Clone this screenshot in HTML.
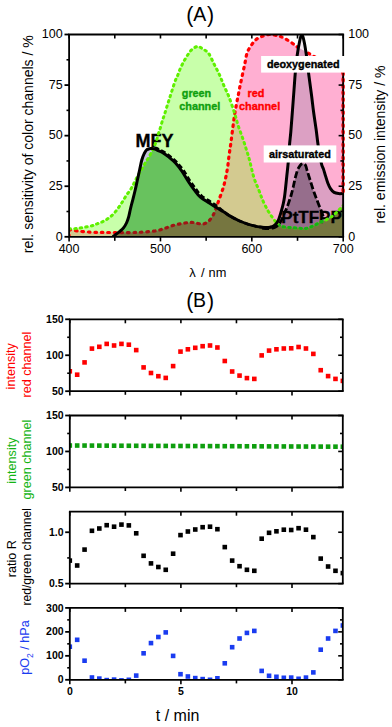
<!DOCTYPE html><html><head><meta charset="utf-8"><style>html,body{margin:0;padding:0;background:#fff;}svg{display:block;font-family:"Liberation Sans",sans-serif;}</style></head><body>
<svg width="392" height="727" viewBox="0 0 392 727">
<defs>
<clipPath id="cA"><rect x="69.1" y="34.5" width="274.1" height="202.3"/></clipPath>
<clipPath id="cG"><path d="M69.10,228.90 C70.25,228.85 73.70,228.82 76.00,228.60 C78.30,228.38 80.23,228.08 82.90,227.60 C85.57,227.12 89.63,226.33 92.00,225.70 C94.37,225.07 95.30,224.48 97.10,223.80 C98.90,223.12 101.00,222.47 102.80,221.60 C104.60,220.73 106.30,219.70 107.90,218.60 C109.50,217.50 110.97,216.37 112.40,215.00 C113.83,213.63 115.22,212.02 116.50,210.40 C117.78,208.78 118.98,206.93 120.10,205.30 C121.22,203.67 122.15,202.28 123.20,200.60 C124.25,198.92 125.27,196.90 126.40,195.20 C127.53,193.50 128.90,192.07 130.00,190.40 C131.10,188.73 132.07,186.93 133.00,185.20 C133.93,183.47 134.68,181.77 135.60,180.00 C136.52,178.23 137.48,176.38 138.50,174.60 C139.52,172.82 140.80,170.85 141.70,169.30 C142.60,167.75 143.15,166.65 143.90,165.30 C144.65,163.95 145.38,162.53 146.20,161.20 C147.02,159.87 147.90,158.83 148.80,157.30 C149.70,155.77 150.65,153.88 151.60,152.00 C152.55,150.12 153.65,148.08 154.50,146.00 C155.35,143.92 156.03,141.58 156.70,139.50 C157.37,137.42 157.90,135.42 158.50,133.50 C159.10,131.58 159.62,130.25 160.30,128.00 C160.98,125.75 161.90,122.25 162.60,120.00 C163.30,117.75 163.77,116.78 164.50,114.50 C165.23,112.22 166.15,109.02 167.00,106.30 C167.85,103.58 168.68,101.08 169.60,98.20 C170.52,95.32 171.48,92.10 172.50,89.00 C173.52,85.90 174.83,81.87 175.70,79.60 C176.57,77.33 177.05,76.97 177.70,75.40 C178.35,73.83 178.85,72.02 179.60,70.20 C180.35,68.38 181.32,66.28 182.20,64.50 C183.08,62.72 183.93,61.17 184.90,59.50 C185.87,57.83 186.88,56.12 188.00,54.50 C189.12,52.88 190.05,51.13 191.60,49.80 C193.15,48.47 195.48,46.67 197.30,46.50 C199.12,46.33 200.62,47.65 202.50,48.80 C204.38,49.95 206.68,50.88 208.60,53.40 C210.52,55.92 212.20,60.37 214.00,63.90 C215.80,67.43 217.77,71.02 219.40,74.60 C221.03,78.18 222.20,81.67 223.80,85.40 C225.40,89.13 227.18,92.30 229.00,97.00 C230.82,101.70 233.15,108.77 234.70,113.60 C236.25,118.43 236.95,121.83 238.30,126.00 C239.65,130.17 241.43,134.60 242.80,138.60 C244.17,142.60 245.40,146.50 246.50,150.00 C247.60,153.50 248.17,155.02 249.40,159.60 C250.63,164.18 252.33,172.43 253.90,177.50 C255.47,182.57 257.33,186.22 258.80,190.00 C260.27,193.78 261.20,196.80 262.70,200.20 C264.20,203.60 266.10,207.42 267.80,210.40 C269.50,213.38 271.32,215.93 272.90,218.10 C274.48,220.27 275.82,222.02 277.30,223.40 C278.78,224.78 279.98,225.73 281.80,226.40 C283.62,227.07 286.08,227.17 288.20,227.40 C290.32,227.63 292.38,227.63 294.50,227.80 C296.62,227.97 299.07,228.28 300.90,228.40 C302.73,228.52 303.93,228.70 305.50,228.50 C307.07,228.30 308.55,227.85 310.30,227.20 C312.05,226.55 314.30,225.45 316.00,224.60 C317.70,223.75 318.80,222.90 320.50,222.10 C322.20,221.30 324.28,220.75 326.20,219.80 C328.12,218.85 330.40,217.50 332.00,216.40 C333.60,215.30 334.53,214.38 335.80,213.20 C337.07,212.02 338.37,210.58 339.60,209.30 C340.83,208.02 342.60,206.13 343.20,205.50 L343.20,236.8 L69.10,236.8 Z"/></clipPath>
<clipPath id="cR"><path d="M69.10,229.50 C70.08,229.68 72.70,230.25 75.00,230.60 C77.30,230.95 79.57,231.32 82.90,231.60 C86.23,231.88 90.48,232.15 95.00,232.30 C99.52,232.45 103.72,232.47 110.00,232.50 C116.28,232.53 126.98,232.58 132.70,232.50 C138.42,232.42 140.28,232.30 144.30,232.00 C148.32,231.70 153.23,231.37 156.80,230.70 C160.37,230.03 162.73,228.95 165.70,228.00 C168.67,227.05 171.62,225.80 174.60,225.00 C177.58,224.20 180.77,223.63 183.60,223.20 C186.43,222.77 189.22,222.35 191.60,222.40 C193.98,222.45 196.08,223.23 197.90,223.50 C199.72,223.77 201.15,224.08 202.50,224.00 C203.85,223.92 204.87,223.58 206.00,223.00 C207.13,222.42 208.25,221.58 209.30,220.50 C210.35,219.42 211.38,218.00 212.30,216.50 C213.22,215.00 213.82,213.92 214.80,211.50 C215.78,209.08 216.73,206.18 218.20,202.00 C219.67,197.82 222.10,191.73 223.60,186.40 C225.10,181.07 226.28,175.23 227.20,170.00 C228.12,164.77 228.50,159.42 229.10,155.00 C229.70,150.58 230.22,147.73 230.80,143.50 C231.38,139.27 232.00,134.18 232.60,129.60 C233.20,125.02 233.75,120.27 234.40,116.00 C235.05,111.73 235.82,107.67 236.50,104.00 C237.18,100.33 237.92,97.00 238.50,94.00 C239.08,91.00 239.50,88.48 240.00,86.00 C240.50,83.52 240.72,82.70 241.50,79.10 C242.28,75.50 243.77,68.75 244.70,64.40 C245.63,60.05 246.05,56.10 247.10,53.00 C248.15,49.90 249.52,48.03 251.00,45.80 C252.48,43.57 254.10,41.20 256.00,39.60 C257.90,38.00 260.17,37.05 262.40,36.20 C264.63,35.35 266.95,34.60 269.40,34.50 C271.85,34.40 274.75,35.05 277.10,35.60 C279.45,36.15 281.10,36.63 283.50,37.80 C285.90,38.97 289.22,41.10 291.50,42.60 C293.78,44.10 295.10,45.45 297.20,46.80 C299.30,48.15 301.62,49.28 304.10,50.70 C306.58,52.12 308.28,53.12 312.10,55.30 C315.92,57.48 321.82,60.88 327.00,63.80 C332.18,66.72 340.50,71.30 343.20,72.80 L343.20,236.8 L69.10,236.8 Z"/></clipPath>
<clipPath id="cM"><path d="M112.80,236.80 C113.33,236.38 114.87,235.17 116.00,234.30 C117.13,233.43 118.32,232.72 119.60,231.60 C120.88,230.48 122.52,229.12 123.70,227.60 C124.88,226.08 125.85,224.38 126.70,222.50 C127.55,220.62 128.22,218.38 128.80,216.30 C129.38,214.22 129.77,211.88 130.20,210.00 C130.63,208.12 130.93,206.83 131.40,205.00 C131.87,203.17 132.37,201.50 133.00,199.00 C133.63,196.50 134.47,193.17 135.20,190.00 C135.93,186.83 136.67,183.33 137.40,180.00 C138.13,176.67 138.87,173.33 139.60,170.00 C140.33,166.67 141.03,162.73 141.80,160.00 C142.57,157.27 143.33,155.33 144.20,153.60 C145.07,151.87 145.78,150.43 147.00,149.60 C148.22,148.77 150.17,148.70 151.50,148.60 C152.83,148.50 153.88,148.67 155.00,149.00 C156.12,149.33 156.90,149.97 158.20,150.60 C159.50,151.23 161.00,151.70 162.80,152.80 C164.60,153.90 166.88,155.50 169.00,157.20 C171.12,158.90 173.35,160.67 175.50,163.00 C177.65,165.33 179.77,168.13 181.90,171.20 C184.03,174.27 186.18,178.20 188.30,181.40 C190.42,184.60 192.58,187.77 194.60,190.40 C196.62,193.03 197.95,195.08 200.40,197.20 C202.85,199.32 206.63,201.38 209.30,203.10 C211.97,204.82 214.02,206.05 216.40,207.50 C218.78,208.95 221.22,210.32 223.60,211.80 C225.98,213.28 228.03,214.87 230.70,216.40 C233.37,217.93 236.62,219.67 239.60,221.00 C242.58,222.33 245.62,223.47 248.60,224.40 C251.58,225.33 254.77,226.08 257.50,226.60 C260.23,227.12 262.92,227.38 265.00,227.50 C267.08,227.62 268.67,227.48 270.00,227.30 C271.33,227.12 272.50,226.55 273.00,226.40 L273.00,236.8 L112.80,236.8 Z"/></clipPath>
<clipPath id="cP"><path d="M273.00,226.40 C273.43,226.05 274.70,225.33 275.60,224.30 C276.50,223.27 277.45,222.38 278.40,220.20 C279.35,218.02 280.48,213.98 281.30,211.20 C282.12,208.42 282.77,205.87 283.30,203.50 C283.83,201.13 284.13,199.50 284.50,197.00 C284.87,194.50 285.12,192.00 285.50,188.50 C285.88,185.00 286.35,180.32 286.80,176.00 C287.25,171.68 287.75,167.77 288.20,162.60 C288.65,157.43 289.07,150.10 289.50,145.00 C289.93,139.90 290.30,137.83 290.80,132.00 C291.30,126.17 291.97,117.00 292.50,110.00 C293.03,103.00 293.53,96.23 294.00,90.00 C294.47,83.77 294.77,78.38 295.30,72.60 C295.83,66.82 296.50,60.40 297.20,55.30 C297.90,50.20 298.73,45.55 299.50,42.00 C300.27,38.45 301.02,34.00 301.80,34.00 C302.58,34.00 303.43,38.45 304.20,42.00 C304.97,45.55 305.68,50.20 306.40,55.30 C307.12,60.40 307.65,65.98 308.50,72.60 C309.35,79.22 310.65,88.43 311.50,95.00 C312.35,101.57 312.82,106.17 313.60,112.00 C314.38,117.83 315.45,124.50 316.20,130.00 C316.95,135.50 317.27,139.55 318.10,145.00 C318.93,150.45 320.32,158.72 321.20,162.70 C322.08,166.68 322.67,166.67 323.40,168.90 C324.13,171.13 324.85,173.72 325.60,176.10 C326.35,178.48 327.08,181.12 327.90,183.20 C328.72,185.28 329.47,187.07 330.50,188.60 C331.53,190.13 332.75,191.57 334.10,192.40 C335.45,193.23 337.08,193.42 338.60,193.60 C340.12,193.78 342.43,193.52 343.20,193.50 L343.20,236.8 L273.00,236.8 Z"/></clipPath>
<clipPath id="cPA"><path d="M262.00,228.20 C263.00,228.27 266.08,228.67 268.00,228.60 C269.92,228.53 272.00,228.23 273.50,227.80 C275.00,227.37 276.00,226.72 277.00,226.00 C278.00,225.28 278.67,224.67 279.50,223.50 C280.33,222.33 281.25,220.58 282.00,219.00 C282.75,217.42 283.17,215.92 284.00,214.00 C284.83,212.08 286.10,209.75 287.00,207.50 C287.90,205.25 288.70,202.58 289.40,200.50 C290.10,198.42 290.60,197.08 291.20,195.00 C291.80,192.92 292.37,190.67 293.00,188.00 C293.63,185.33 294.27,181.92 295.00,179.00 C295.73,176.08 296.57,172.73 297.40,170.50 C298.23,168.27 299.10,166.75 300.00,165.60 C300.90,164.45 301.88,163.65 302.80,163.60 C303.72,163.55 304.73,163.98 305.50,165.30 C306.27,166.62 306.58,168.88 307.40,171.50 C308.22,174.12 309.40,177.83 310.40,181.00 C311.40,184.17 312.47,187.75 313.40,190.50 C314.33,193.25 315.13,195.22 316.00,197.50 C316.87,199.78 317.72,201.98 318.60,204.20 C319.48,206.42 320.48,208.58 321.30,210.80 C322.12,213.02 322.80,215.30 323.50,217.50 C324.20,219.70 324.83,221.83 325.50,224.00 C326.17,226.17 326.75,228.37 327.50,230.50 C328.25,232.63 329.58,235.75 330.00,236.80 L330.00,236.8 L262.00,236.8 Z"/></clipPath>
</defs>
<g clip-path="url(#cA)">
<path d="M69.10,228.90 C70.25,228.85 73.70,228.82 76.00,228.60 C78.30,228.38 80.23,228.08 82.90,227.60 C85.57,227.12 89.63,226.33 92.00,225.70 C94.37,225.07 95.30,224.48 97.10,223.80 C98.90,223.12 101.00,222.47 102.80,221.60 C104.60,220.73 106.30,219.70 107.90,218.60 C109.50,217.50 110.97,216.37 112.40,215.00 C113.83,213.63 115.22,212.02 116.50,210.40 C117.78,208.78 118.98,206.93 120.10,205.30 C121.22,203.67 122.15,202.28 123.20,200.60 C124.25,198.92 125.27,196.90 126.40,195.20 C127.53,193.50 128.90,192.07 130.00,190.40 C131.10,188.73 132.07,186.93 133.00,185.20 C133.93,183.47 134.68,181.77 135.60,180.00 C136.52,178.23 137.48,176.38 138.50,174.60 C139.52,172.82 140.80,170.85 141.70,169.30 C142.60,167.75 143.15,166.65 143.90,165.30 C144.65,163.95 145.38,162.53 146.20,161.20 C147.02,159.87 147.90,158.83 148.80,157.30 C149.70,155.77 150.65,153.88 151.60,152.00 C152.55,150.12 153.65,148.08 154.50,146.00 C155.35,143.92 156.03,141.58 156.70,139.50 C157.37,137.42 157.90,135.42 158.50,133.50 C159.10,131.58 159.62,130.25 160.30,128.00 C160.98,125.75 161.90,122.25 162.60,120.00 C163.30,117.75 163.77,116.78 164.50,114.50 C165.23,112.22 166.15,109.02 167.00,106.30 C167.85,103.58 168.68,101.08 169.60,98.20 C170.52,95.32 171.48,92.10 172.50,89.00 C173.52,85.90 174.83,81.87 175.70,79.60 C176.57,77.33 177.05,76.97 177.70,75.40 C178.35,73.83 178.85,72.02 179.60,70.20 C180.35,68.38 181.32,66.28 182.20,64.50 C183.08,62.72 183.93,61.17 184.90,59.50 C185.87,57.83 186.88,56.12 188.00,54.50 C189.12,52.88 190.05,51.13 191.60,49.80 C193.15,48.47 195.48,46.67 197.30,46.50 C199.12,46.33 200.62,47.65 202.50,48.80 C204.38,49.95 206.68,50.88 208.60,53.40 C210.52,55.92 212.20,60.37 214.00,63.90 C215.80,67.43 217.77,71.02 219.40,74.60 C221.03,78.18 222.20,81.67 223.80,85.40 C225.40,89.13 227.18,92.30 229.00,97.00 C230.82,101.70 233.15,108.77 234.70,113.60 C236.25,118.43 236.95,121.83 238.30,126.00 C239.65,130.17 241.43,134.60 242.80,138.60 C244.17,142.60 245.40,146.50 246.50,150.00 C247.60,153.50 248.17,155.02 249.40,159.60 C250.63,164.18 252.33,172.43 253.90,177.50 C255.47,182.57 257.33,186.22 258.80,190.00 C260.27,193.78 261.20,196.80 262.70,200.20 C264.20,203.60 266.10,207.42 267.80,210.40 C269.50,213.38 271.32,215.93 272.90,218.10 C274.48,220.27 275.82,222.02 277.30,223.40 C278.78,224.78 279.98,225.73 281.80,226.40 C283.62,227.07 286.08,227.17 288.20,227.40 C290.32,227.63 292.38,227.63 294.50,227.80 C296.62,227.97 299.07,228.28 300.90,228.40 C302.73,228.52 303.93,228.70 305.50,228.50 C307.07,228.30 308.55,227.85 310.30,227.20 C312.05,226.55 314.30,225.45 316.00,224.60 C317.70,223.75 318.80,222.90 320.50,222.10 C322.20,221.30 324.28,220.75 326.20,219.80 C328.12,218.85 330.40,217.50 332.00,216.40 C333.60,215.30 334.53,214.38 335.80,213.20 C337.07,212.02 338.37,210.58 339.60,209.30 C340.83,208.02 342.60,206.13 343.20,205.50 L343.20,236.8 L69.10,236.8 Z" fill="#c8ffaa"/>
<path d="M69.10,229.50 C70.08,229.68 72.70,230.25 75.00,230.60 C77.30,230.95 79.57,231.32 82.90,231.60 C86.23,231.88 90.48,232.15 95.00,232.30 C99.52,232.45 103.72,232.47 110.00,232.50 C116.28,232.53 126.98,232.58 132.70,232.50 C138.42,232.42 140.28,232.30 144.30,232.00 C148.32,231.70 153.23,231.37 156.80,230.70 C160.37,230.03 162.73,228.95 165.70,228.00 C168.67,227.05 171.62,225.80 174.60,225.00 C177.58,224.20 180.77,223.63 183.60,223.20 C186.43,222.77 189.22,222.35 191.60,222.40 C193.98,222.45 196.08,223.23 197.90,223.50 C199.72,223.77 201.15,224.08 202.50,224.00 C203.85,223.92 204.87,223.58 206.00,223.00 C207.13,222.42 208.25,221.58 209.30,220.50 C210.35,219.42 211.38,218.00 212.30,216.50 C213.22,215.00 213.82,213.92 214.80,211.50 C215.78,209.08 216.73,206.18 218.20,202.00 C219.67,197.82 222.10,191.73 223.60,186.40 C225.10,181.07 226.28,175.23 227.20,170.00 C228.12,164.77 228.50,159.42 229.10,155.00 C229.70,150.58 230.22,147.73 230.80,143.50 C231.38,139.27 232.00,134.18 232.60,129.60 C233.20,125.02 233.75,120.27 234.40,116.00 C235.05,111.73 235.82,107.67 236.50,104.00 C237.18,100.33 237.92,97.00 238.50,94.00 C239.08,91.00 239.50,88.48 240.00,86.00 C240.50,83.52 240.72,82.70 241.50,79.10 C242.28,75.50 243.77,68.75 244.70,64.40 C245.63,60.05 246.05,56.10 247.10,53.00 C248.15,49.90 249.52,48.03 251.00,45.80 C252.48,43.57 254.10,41.20 256.00,39.60 C257.90,38.00 260.17,37.05 262.40,36.20 C264.63,35.35 266.95,34.60 269.40,34.50 C271.85,34.40 274.75,35.05 277.10,35.60 C279.45,36.15 281.10,36.63 283.50,37.80 C285.90,38.97 289.22,41.10 291.50,42.60 C293.78,44.10 295.10,45.45 297.20,46.80 C299.30,48.15 301.62,49.28 304.10,50.70 C306.58,52.12 308.28,53.12 312.10,55.30 C315.92,57.48 321.82,60.88 327.00,63.80 C332.18,66.72 340.50,71.30 343.20,72.80 L343.20,236.8 L69.10,236.8 Z" fill="#ffafd2"/>
<g clip-path="url(#cR)"><path d="M69.10,228.90 C70.25,228.85 73.70,228.82 76.00,228.60 C78.30,228.38 80.23,228.08 82.90,227.60 C85.57,227.12 89.63,226.33 92.00,225.70 C94.37,225.07 95.30,224.48 97.10,223.80 C98.90,223.12 101.00,222.47 102.80,221.60 C104.60,220.73 106.30,219.70 107.90,218.60 C109.50,217.50 110.97,216.37 112.40,215.00 C113.83,213.63 115.22,212.02 116.50,210.40 C117.78,208.78 118.98,206.93 120.10,205.30 C121.22,203.67 122.15,202.28 123.20,200.60 C124.25,198.92 125.27,196.90 126.40,195.20 C127.53,193.50 128.90,192.07 130.00,190.40 C131.10,188.73 132.07,186.93 133.00,185.20 C133.93,183.47 134.68,181.77 135.60,180.00 C136.52,178.23 137.48,176.38 138.50,174.60 C139.52,172.82 140.80,170.85 141.70,169.30 C142.60,167.75 143.15,166.65 143.90,165.30 C144.65,163.95 145.38,162.53 146.20,161.20 C147.02,159.87 147.90,158.83 148.80,157.30 C149.70,155.77 150.65,153.88 151.60,152.00 C152.55,150.12 153.65,148.08 154.50,146.00 C155.35,143.92 156.03,141.58 156.70,139.50 C157.37,137.42 157.90,135.42 158.50,133.50 C159.10,131.58 159.62,130.25 160.30,128.00 C160.98,125.75 161.90,122.25 162.60,120.00 C163.30,117.75 163.77,116.78 164.50,114.50 C165.23,112.22 166.15,109.02 167.00,106.30 C167.85,103.58 168.68,101.08 169.60,98.20 C170.52,95.32 171.48,92.10 172.50,89.00 C173.52,85.90 174.83,81.87 175.70,79.60 C176.57,77.33 177.05,76.97 177.70,75.40 C178.35,73.83 178.85,72.02 179.60,70.20 C180.35,68.38 181.32,66.28 182.20,64.50 C183.08,62.72 183.93,61.17 184.90,59.50 C185.87,57.83 186.88,56.12 188.00,54.50 C189.12,52.88 190.05,51.13 191.60,49.80 C193.15,48.47 195.48,46.67 197.30,46.50 C199.12,46.33 200.62,47.65 202.50,48.80 C204.38,49.95 206.68,50.88 208.60,53.40 C210.52,55.92 212.20,60.37 214.00,63.90 C215.80,67.43 217.77,71.02 219.40,74.60 C221.03,78.18 222.20,81.67 223.80,85.40 C225.40,89.13 227.18,92.30 229.00,97.00 C230.82,101.70 233.15,108.77 234.70,113.60 C236.25,118.43 236.95,121.83 238.30,126.00 C239.65,130.17 241.43,134.60 242.80,138.60 C244.17,142.60 245.40,146.50 246.50,150.00 C247.60,153.50 248.17,155.02 249.40,159.60 C250.63,164.18 252.33,172.43 253.90,177.50 C255.47,182.57 257.33,186.22 258.80,190.00 C260.27,193.78 261.20,196.80 262.70,200.20 C264.20,203.60 266.10,207.42 267.80,210.40 C269.50,213.38 271.32,215.93 272.90,218.10 C274.48,220.27 275.82,222.02 277.30,223.40 C278.78,224.78 279.98,225.73 281.80,226.40 C283.62,227.07 286.08,227.17 288.20,227.40 C290.32,227.63 292.38,227.63 294.50,227.80 C296.62,227.97 299.07,228.28 300.90,228.40 C302.73,228.52 303.93,228.70 305.50,228.50 C307.07,228.30 308.55,227.85 310.30,227.20 C312.05,226.55 314.30,225.45 316.00,224.60 C317.70,223.75 318.80,222.90 320.50,222.10 C322.20,221.30 324.28,220.75 326.20,219.80 C328.12,218.85 330.40,217.50 332.00,216.40 C333.60,215.30 334.53,214.38 335.80,213.20 C337.07,212.02 338.37,210.58 339.60,209.30 C340.83,208.02 342.60,206.13 343.20,205.50 L343.20,236.8 L69.10,236.8 Z" fill="#d3ca90"/></g>
<path d="M69.10,229.50 C70.08,229.68 72.70,230.25 75.00,230.60 C77.30,230.95 79.57,231.32 82.90,231.60 C86.23,231.88 90.48,232.15 95.00,232.30 C99.52,232.45 103.72,232.47 110.00,232.50 C116.28,232.53 126.98,232.58 132.70,232.50 C138.42,232.42 140.28,232.30 144.30,232.00 C148.32,231.70 153.23,231.37 156.80,230.70 C160.37,230.03 162.73,228.95 165.70,228.00 C168.67,227.05 171.62,225.80 174.60,225.00 C177.58,224.20 180.77,223.63 183.60,223.20 C186.43,222.77 189.22,222.35 191.60,222.40 C193.98,222.45 196.08,223.23 197.90,223.50 C199.72,223.77 201.15,224.08 202.50,224.00 C203.85,223.92 204.87,223.58 206.00,223.00 C207.13,222.42 208.25,221.58 209.30,220.50 C210.35,219.42 211.38,218.00 212.30,216.50 C213.22,215.00 213.82,213.92 214.80,211.50 C215.78,209.08 216.73,206.18 218.20,202.00 C219.67,197.82 222.10,191.73 223.60,186.40 C225.10,181.07 226.28,175.23 227.20,170.00 C228.12,164.77 228.50,159.42 229.10,155.00 C229.70,150.58 230.22,147.73 230.80,143.50 C231.38,139.27 232.00,134.18 232.60,129.60 C233.20,125.02 233.75,120.27 234.40,116.00 C235.05,111.73 235.82,107.67 236.50,104.00 C237.18,100.33 237.92,97.00 238.50,94.00 C239.08,91.00 239.50,88.48 240.00,86.00 C240.50,83.52 240.72,82.70 241.50,79.10 C242.28,75.50 243.77,68.75 244.70,64.40 C245.63,60.05 246.05,56.10 247.10,53.00 C248.15,49.90 249.52,48.03 251.00,45.80 C252.48,43.57 254.10,41.20 256.00,39.60 C257.90,38.00 260.17,37.05 262.40,36.20 C264.63,35.35 266.95,34.60 269.40,34.50 C271.85,34.40 274.75,35.05 277.10,35.60 C279.45,36.15 281.10,36.63 283.50,37.80 C285.90,38.97 289.22,41.10 291.50,42.60 C293.78,44.10 295.10,45.45 297.20,46.80 C299.30,48.15 301.62,49.28 304.10,50.70 C306.58,52.12 308.28,53.12 312.10,55.30 C315.92,57.48 321.82,60.88 327.00,63.80 C332.18,66.72 340.50,71.30 343.20,72.80 L343.2,236.8" fill="none" stroke="#ff0000" stroke-width="3.2" stroke-dasharray="1.6 4.9" stroke-linecap="round"/>
<path d="M69.1,236.8 L69.1,229.5" fill="none" stroke="#ff0000" stroke-width="3.2" stroke-dasharray="1.6 4.9" stroke-linecap="round"/>
<path d="M112.80,236.80 C113.33,236.38 114.87,235.17 116.00,234.30 C117.13,233.43 118.32,232.72 119.60,231.60 C120.88,230.48 122.52,229.12 123.70,227.60 C124.88,226.08 125.85,224.38 126.70,222.50 C127.55,220.62 128.22,218.38 128.80,216.30 C129.38,214.22 129.77,211.88 130.20,210.00 C130.63,208.12 130.93,206.83 131.40,205.00 C131.87,203.17 132.37,201.50 133.00,199.00 C133.63,196.50 134.47,193.17 135.20,190.00 C135.93,186.83 136.67,183.33 137.40,180.00 C138.13,176.67 138.87,173.33 139.60,170.00 C140.33,166.67 141.03,162.73 141.80,160.00 C142.57,157.27 143.33,155.33 144.20,153.60 C145.07,151.87 145.78,150.43 147.00,149.60 C148.22,148.77 150.17,148.70 151.50,148.60 C152.83,148.50 153.88,148.67 155.00,149.00 C156.12,149.33 156.90,149.97 158.20,150.60 C159.50,151.23 161.00,151.70 162.80,152.80 C164.60,153.90 166.88,155.50 169.00,157.20 C171.12,158.90 173.35,160.67 175.50,163.00 C177.65,165.33 179.77,168.13 181.90,171.20 C184.03,174.27 186.18,178.20 188.30,181.40 C190.42,184.60 192.58,187.77 194.60,190.40 C196.62,193.03 197.95,195.08 200.40,197.20 C202.85,199.32 206.63,201.38 209.30,203.10 C211.97,204.82 214.02,206.05 216.40,207.50 C218.78,208.95 221.22,210.32 223.60,211.80 C225.98,213.28 228.03,214.87 230.70,216.40 C233.37,217.93 236.62,219.67 239.60,221.00 C242.58,222.33 245.62,223.47 248.60,224.40 C251.58,225.33 254.77,226.08 257.50,226.60 C260.23,227.12 262.92,227.38 265.00,227.50 C267.08,227.62 268.67,227.48 270.00,227.30 C271.33,227.12 272.50,226.55 273.00,226.40 L273.00,236.8 L112.80,236.8 Z" fill="#c4c4dc"/>
<g clip-path="url(#cG)"><path d="M112.80,236.80 C113.33,236.38 114.87,235.17 116.00,234.30 C117.13,233.43 118.32,232.72 119.60,231.60 C120.88,230.48 122.52,229.12 123.70,227.60 C124.88,226.08 125.85,224.38 126.70,222.50 C127.55,220.62 128.22,218.38 128.80,216.30 C129.38,214.22 129.77,211.88 130.20,210.00 C130.63,208.12 130.93,206.83 131.40,205.00 C131.87,203.17 132.37,201.50 133.00,199.00 C133.63,196.50 134.47,193.17 135.20,190.00 C135.93,186.83 136.67,183.33 137.40,180.00 C138.13,176.67 138.87,173.33 139.60,170.00 C140.33,166.67 141.03,162.73 141.80,160.00 C142.57,157.27 143.33,155.33 144.20,153.60 C145.07,151.87 145.78,150.43 147.00,149.60 C148.22,148.77 150.17,148.70 151.50,148.60 C152.83,148.50 153.88,148.67 155.00,149.00 C156.12,149.33 156.90,149.97 158.20,150.60 C159.50,151.23 161.00,151.70 162.80,152.80 C164.60,153.90 166.88,155.50 169.00,157.20 C171.12,158.90 173.35,160.67 175.50,163.00 C177.65,165.33 179.77,168.13 181.90,171.20 C184.03,174.27 186.18,178.20 188.30,181.40 C190.42,184.60 192.58,187.77 194.60,190.40 C196.62,193.03 197.95,195.08 200.40,197.20 C202.85,199.32 206.63,201.38 209.30,203.10 C211.97,204.82 214.02,206.05 216.40,207.50 C218.78,208.95 221.22,210.32 223.60,211.80 C225.98,213.28 228.03,214.87 230.70,216.40 C233.37,217.93 236.62,219.67 239.60,221.00 C242.58,222.33 245.62,223.47 248.60,224.40 C251.58,225.33 254.77,226.08 257.50,226.60 C260.23,227.12 262.92,227.38 265.00,227.50 C267.08,227.62 268.67,227.48 270.00,227.30 C271.33,227.12 272.50,226.55 273.00,226.40 L273.00,236.8 L112.80,236.8 Z" fill="#68c25e"/></g>
<g clip-path="url(#cR)"><path d="M112.80,236.80 C113.33,236.38 114.87,235.17 116.00,234.30 C117.13,233.43 118.32,232.72 119.60,231.60 C120.88,230.48 122.52,229.12 123.70,227.60 C124.88,226.08 125.85,224.38 126.70,222.50 C127.55,220.62 128.22,218.38 128.80,216.30 C129.38,214.22 129.77,211.88 130.20,210.00 C130.63,208.12 130.93,206.83 131.40,205.00 C131.87,203.17 132.37,201.50 133.00,199.00 C133.63,196.50 134.47,193.17 135.20,190.00 C135.93,186.83 136.67,183.33 137.40,180.00 C138.13,176.67 138.87,173.33 139.60,170.00 C140.33,166.67 141.03,162.73 141.80,160.00 C142.57,157.27 143.33,155.33 144.20,153.60 C145.07,151.87 145.78,150.43 147.00,149.60 C148.22,148.77 150.17,148.70 151.50,148.60 C152.83,148.50 153.88,148.67 155.00,149.00 C156.12,149.33 156.90,149.97 158.20,150.60 C159.50,151.23 161.00,151.70 162.80,152.80 C164.60,153.90 166.88,155.50 169.00,157.20 C171.12,158.90 173.35,160.67 175.50,163.00 C177.65,165.33 179.77,168.13 181.90,171.20 C184.03,174.27 186.18,178.20 188.30,181.40 C190.42,184.60 192.58,187.77 194.60,190.40 C196.62,193.03 197.95,195.08 200.40,197.20 C202.85,199.32 206.63,201.38 209.30,203.10 C211.97,204.82 214.02,206.05 216.40,207.50 C218.78,208.95 221.22,210.32 223.60,211.80 C225.98,213.28 228.03,214.87 230.70,216.40 C233.37,217.93 236.62,219.67 239.60,221.00 C242.58,222.33 245.62,223.47 248.60,224.40 C251.58,225.33 254.77,226.08 257.50,226.60 C260.23,227.12 262.92,227.38 265.00,227.50 C267.08,227.62 268.67,227.48 270.00,227.30 C271.33,227.12 272.50,226.55 273.00,226.40 L273.00,236.8 L112.80,236.8 Z" fill="#767640"/></g>
<g clip-path="url(#cM)"><path d="M69.10,229.50 C70.08,229.68 72.70,230.25 75.00,230.60 C77.30,230.95 79.57,231.32 82.90,231.60 C86.23,231.88 90.48,232.15 95.00,232.30 C99.52,232.45 103.72,232.47 110.00,232.50 C116.28,232.53 126.98,232.58 132.70,232.50 C138.42,232.42 140.28,232.30 144.30,232.00 C148.32,231.70 153.23,231.37 156.80,230.70 C160.37,230.03 162.73,228.95 165.70,228.00 C168.67,227.05 171.62,225.80 174.60,225.00 C177.58,224.20 180.77,223.63 183.60,223.20 C186.43,222.77 189.22,222.35 191.60,222.40 C193.98,222.45 196.08,223.23 197.90,223.50 C199.72,223.77 201.15,224.08 202.50,224.00 C203.85,223.92 204.87,223.58 206.00,223.00 C207.13,222.42 208.25,221.58 209.30,220.50 C210.35,219.42 211.38,218.00 212.30,216.50 C213.22,215.00 213.82,213.92 214.80,211.50 C215.78,209.08 216.73,206.18 218.20,202.00 C219.67,197.82 222.10,191.73 223.60,186.40 C225.10,181.07 226.28,175.23 227.20,170.00 C228.12,164.77 228.50,159.42 229.10,155.00 C229.70,150.58 230.22,147.73 230.80,143.50 C231.38,139.27 232.00,134.18 232.60,129.60 C233.20,125.02 233.75,120.27 234.40,116.00 C235.05,111.73 235.82,107.67 236.50,104.00 C237.18,100.33 237.92,97.00 238.50,94.00 C239.08,91.00 239.50,88.48 240.00,86.00 C240.50,83.52 240.72,82.70 241.50,79.10 C242.28,75.50 243.77,68.75 244.70,64.40 C245.63,60.05 246.05,56.10 247.10,53.00 C248.15,49.90 249.52,48.03 251.00,45.80 C252.48,43.57 254.10,41.20 256.00,39.60 C257.90,38.00 260.17,37.05 262.40,36.20 C264.63,35.35 266.95,34.60 269.40,34.50 C271.85,34.40 274.75,35.05 277.10,35.60 C279.45,36.15 281.10,36.63 283.50,37.80 C285.90,38.97 289.22,41.10 291.50,42.60 C293.78,44.10 295.10,45.45 297.20,46.80 C299.30,48.15 301.62,49.28 304.10,50.70 C306.58,52.12 308.28,53.12 312.10,55.30 C315.92,57.48 321.82,60.88 327.00,63.80 C332.18,66.72 340.50,71.30 343.20,72.80" fill="none" stroke="#a01414" stroke-width="3.2" stroke-dasharray="1.6 4.9" stroke-linecap="round"/></g>
<path d="M273.00,226.40 C273.43,226.05 274.70,225.33 275.60,224.30 C276.50,223.27 277.45,222.38 278.40,220.20 C279.35,218.02 280.48,213.98 281.30,211.20 C282.12,208.42 282.77,205.87 283.30,203.50 C283.83,201.13 284.13,199.50 284.50,197.00 C284.87,194.50 285.12,192.00 285.50,188.50 C285.88,185.00 286.35,180.32 286.80,176.00 C287.25,171.68 287.75,167.77 288.20,162.60 C288.65,157.43 289.07,150.10 289.50,145.00 C289.93,139.90 290.30,137.83 290.80,132.00 C291.30,126.17 291.97,117.00 292.50,110.00 C293.03,103.00 293.53,96.23 294.00,90.00 C294.47,83.77 294.77,78.38 295.30,72.60 C295.83,66.82 296.50,60.40 297.20,55.30 C297.90,50.20 298.73,45.55 299.50,42.00 C300.27,38.45 301.02,34.00 301.80,34.00 C302.58,34.00 303.43,38.45 304.20,42.00 C304.97,45.55 305.68,50.20 306.40,55.30 C307.12,60.40 307.65,65.98 308.50,72.60 C309.35,79.22 310.65,88.43 311.50,95.00 C312.35,101.57 312.82,106.17 313.60,112.00 C314.38,117.83 315.45,124.50 316.20,130.00 C316.95,135.50 317.27,139.55 318.10,145.00 C318.93,150.45 320.32,158.72 321.20,162.70 C322.08,166.68 322.67,166.67 323.40,168.90 C324.13,171.13 324.85,173.72 325.60,176.10 C326.35,178.48 327.08,181.12 327.90,183.20 C328.72,185.28 329.47,187.07 330.50,188.60 C331.53,190.13 332.75,191.57 334.10,192.40 C335.45,193.23 337.08,193.42 338.60,193.60 C340.12,193.78 342.43,193.52 343.20,193.50 L343.20,236.8 L273.00,236.8 Z" fill="#f3eaf1"/>
<g clip-path="url(#cR)"><path d="M273.00,226.40 C273.43,226.05 274.70,225.33 275.60,224.30 C276.50,223.27 277.45,222.38 278.40,220.20 C279.35,218.02 280.48,213.98 281.30,211.20 C282.12,208.42 282.77,205.87 283.30,203.50 C283.83,201.13 284.13,199.50 284.50,197.00 C284.87,194.50 285.12,192.00 285.50,188.50 C285.88,185.00 286.35,180.32 286.80,176.00 C287.25,171.68 287.75,167.77 288.20,162.60 C288.65,157.43 289.07,150.10 289.50,145.00 C289.93,139.90 290.30,137.83 290.80,132.00 C291.30,126.17 291.97,117.00 292.50,110.00 C293.03,103.00 293.53,96.23 294.00,90.00 C294.47,83.77 294.77,78.38 295.30,72.60 C295.83,66.82 296.50,60.40 297.20,55.30 C297.90,50.20 298.73,45.55 299.50,42.00 C300.27,38.45 301.02,34.00 301.80,34.00 C302.58,34.00 303.43,38.45 304.20,42.00 C304.97,45.55 305.68,50.20 306.40,55.30 C307.12,60.40 307.65,65.98 308.50,72.60 C309.35,79.22 310.65,88.43 311.50,95.00 C312.35,101.57 312.82,106.17 313.60,112.00 C314.38,117.83 315.45,124.50 316.20,130.00 C316.95,135.50 317.27,139.55 318.10,145.00 C318.93,150.45 320.32,158.72 321.20,162.70 C322.08,166.68 322.67,166.67 323.40,168.90 C324.13,171.13 324.85,173.72 325.60,176.10 C326.35,178.48 327.08,181.12 327.90,183.20 C328.72,185.28 329.47,187.07 330.50,188.60 C331.53,190.13 332.75,191.57 334.10,192.40 C335.45,193.23 337.08,193.42 338.60,193.60 C340.12,193.78 342.43,193.52 343.20,193.50 L343.20,236.8 L273.00,236.8 Z" fill="#dca0c3"/></g>
<g clip-path="url(#cR)"><path d="M262.00,228.20 C263.00,228.27 266.08,228.67 268.00,228.60 C269.92,228.53 272.00,228.23 273.50,227.80 C275.00,227.37 276.00,226.72 277.00,226.00 C278.00,225.28 278.67,224.67 279.50,223.50 C280.33,222.33 281.25,220.58 282.00,219.00 C282.75,217.42 283.17,215.92 284.00,214.00 C284.83,212.08 286.10,209.75 287.00,207.50 C287.90,205.25 288.70,202.58 289.40,200.50 C290.10,198.42 290.60,197.08 291.20,195.00 C291.80,192.92 292.37,190.67 293.00,188.00 C293.63,185.33 294.27,181.92 295.00,179.00 C295.73,176.08 296.57,172.73 297.40,170.50 C298.23,168.27 299.10,166.75 300.00,165.60 C300.90,164.45 301.88,163.65 302.80,163.60 C303.72,163.55 304.73,163.98 305.50,165.30 C306.27,166.62 306.58,168.88 307.40,171.50 C308.22,174.12 309.40,177.83 310.40,181.00 C311.40,184.17 312.47,187.75 313.40,190.50 C314.33,193.25 315.13,195.22 316.00,197.50 C316.87,199.78 317.72,201.98 318.60,204.20 C319.48,206.42 320.48,208.58 321.30,210.80 C322.12,213.02 322.80,215.30 323.50,217.50 C324.20,219.70 324.83,221.83 325.50,224.00 C326.17,226.17 326.75,228.37 327.50,230.50 C328.25,232.63 329.58,235.75 330.00,236.80 L330.00,236.8 L262.00,236.8 Z" fill="#966e8c"/></g>
<g clip-path="url(#cG)"><g clip-path="url(#cP)"><path d="M69.10,228.90 C70.25,228.85 73.70,228.82 76.00,228.60 C78.30,228.38 80.23,228.08 82.90,227.60 C85.57,227.12 89.63,226.33 92.00,225.70 C94.37,225.07 95.30,224.48 97.10,223.80 C98.90,223.12 101.00,222.47 102.80,221.60 C104.60,220.73 106.30,219.70 107.90,218.60 C109.50,217.50 110.97,216.37 112.40,215.00 C113.83,213.63 115.22,212.02 116.50,210.40 C117.78,208.78 118.98,206.93 120.10,205.30 C121.22,203.67 122.15,202.28 123.20,200.60 C124.25,198.92 125.27,196.90 126.40,195.20 C127.53,193.50 128.90,192.07 130.00,190.40 C131.10,188.73 132.07,186.93 133.00,185.20 C133.93,183.47 134.68,181.77 135.60,180.00 C136.52,178.23 137.48,176.38 138.50,174.60 C139.52,172.82 140.80,170.85 141.70,169.30 C142.60,167.75 143.15,166.65 143.90,165.30 C144.65,163.95 145.38,162.53 146.20,161.20 C147.02,159.87 147.90,158.83 148.80,157.30 C149.70,155.77 150.65,153.88 151.60,152.00 C152.55,150.12 153.65,148.08 154.50,146.00 C155.35,143.92 156.03,141.58 156.70,139.50 C157.37,137.42 157.90,135.42 158.50,133.50 C159.10,131.58 159.62,130.25 160.30,128.00 C160.98,125.75 161.90,122.25 162.60,120.00 C163.30,117.75 163.77,116.78 164.50,114.50 C165.23,112.22 166.15,109.02 167.00,106.30 C167.85,103.58 168.68,101.08 169.60,98.20 C170.52,95.32 171.48,92.10 172.50,89.00 C173.52,85.90 174.83,81.87 175.70,79.60 C176.57,77.33 177.05,76.97 177.70,75.40 C178.35,73.83 178.85,72.02 179.60,70.20 C180.35,68.38 181.32,66.28 182.20,64.50 C183.08,62.72 183.93,61.17 184.90,59.50 C185.87,57.83 186.88,56.12 188.00,54.50 C189.12,52.88 190.05,51.13 191.60,49.80 C193.15,48.47 195.48,46.67 197.30,46.50 C199.12,46.33 200.62,47.65 202.50,48.80 C204.38,49.95 206.68,50.88 208.60,53.40 C210.52,55.92 212.20,60.37 214.00,63.90 C215.80,67.43 217.77,71.02 219.40,74.60 C221.03,78.18 222.20,81.67 223.80,85.40 C225.40,89.13 227.18,92.30 229.00,97.00 C230.82,101.70 233.15,108.77 234.70,113.60 C236.25,118.43 236.95,121.83 238.30,126.00 C239.65,130.17 241.43,134.60 242.80,138.60 C244.17,142.60 245.40,146.50 246.50,150.00 C247.60,153.50 248.17,155.02 249.40,159.60 C250.63,164.18 252.33,172.43 253.90,177.50 C255.47,182.57 257.33,186.22 258.80,190.00 C260.27,193.78 261.20,196.80 262.70,200.20 C264.20,203.60 266.10,207.42 267.80,210.40 C269.50,213.38 271.32,215.93 272.90,218.10 C274.48,220.27 275.82,222.02 277.30,223.40 C278.78,224.78 279.98,225.73 281.80,226.40 C283.62,227.07 286.08,227.17 288.20,227.40 C290.32,227.63 292.38,227.63 294.50,227.80 C296.62,227.97 299.07,228.28 300.90,228.40 C302.73,228.52 303.93,228.70 305.50,228.50 C307.07,228.30 308.55,227.85 310.30,227.20 C312.05,226.55 314.30,225.45 316.00,224.60 C317.70,223.75 318.80,222.90 320.50,222.10 C322.20,221.30 324.28,220.75 326.20,219.80 C328.12,218.85 330.40,217.50 332.00,216.40 C333.60,215.30 334.53,214.38 335.80,213.20 C337.07,212.02 338.37,210.58 339.60,209.30 C340.83,208.02 342.60,206.13 343.20,205.50 L343.20,236.8 L69.10,236.8 Z" fill="#767640"/></g></g>
<g clip-path="url(#cG)"><g clip-path="url(#cPA)"><path d="M69.10,228.90 C70.25,228.85 73.70,228.82 76.00,228.60 C78.30,228.38 80.23,228.08 82.90,227.60 C85.57,227.12 89.63,226.33 92.00,225.70 C94.37,225.07 95.30,224.48 97.10,223.80 C98.90,223.12 101.00,222.47 102.80,221.60 C104.60,220.73 106.30,219.70 107.90,218.60 C109.50,217.50 110.97,216.37 112.40,215.00 C113.83,213.63 115.22,212.02 116.50,210.40 C117.78,208.78 118.98,206.93 120.10,205.30 C121.22,203.67 122.15,202.28 123.20,200.60 C124.25,198.92 125.27,196.90 126.40,195.20 C127.53,193.50 128.90,192.07 130.00,190.40 C131.10,188.73 132.07,186.93 133.00,185.20 C133.93,183.47 134.68,181.77 135.60,180.00 C136.52,178.23 137.48,176.38 138.50,174.60 C139.52,172.82 140.80,170.85 141.70,169.30 C142.60,167.75 143.15,166.65 143.90,165.30 C144.65,163.95 145.38,162.53 146.20,161.20 C147.02,159.87 147.90,158.83 148.80,157.30 C149.70,155.77 150.65,153.88 151.60,152.00 C152.55,150.12 153.65,148.08 154.50,146.00 C155.35,143.92 156.03,141.58 156.70,139.50 C157.37,137.42 157.90,135.42 158.50,133.50 C159.10,131.58 159.62,130.25 160.30,128.00 C160.98,125.75 161.90,122.25 162.60,120.00 C163.30,117.75 163.77,116.78 164.50,114.50 C165.23,112.22 166.15,109.02 167.00,106.30 C167.85,103.58 168.68,101.08 169.60,98.20 C170.52,95.32 171.48,92.10 172.50,89.00 C173.52,85.90 174.83,81.87 175.70,79.60 C176.57,77.33 177.05,76.97 177.70,75.40 C178.35,73.83 178.85,72.02 179.60,70.20 C180.35,68.38 181.32,66.28 182.20,64.50 C183.08,62.72 183.93,61.17 184.90,59.50 C185.87,57.83 186.88,56.12 188.00,54.50 C189.12,52.88 190.05,51.13 191.60,49.80 C193.15,48.47 195.48,46.67 197.30,46.50 C199.12,46.33 200.62,47.65 202.50,48.80 C204.38,49.95 206.68,50.88 208.60,53.40 C210.52,55.92 212.20,60.37 214.00,63.90 C215.80,67.43 217.77,71.02 219.40,74.60 C221.03,78.18 222.20,81.67 223.80,85.40 C225.40,89.13 227.18,92.30 229.00,97.00 C230.82,101.70 233.15,108.77 234.70,113.60 C236.25,118.43 236.95,121.83 238.30,126.00 C239.65,130.17 241.43,134.60 242.80,138.60 C244.17,142.60 245.40,146.50 246.50,150.00 C247.60,153.50 248.17,155.02 249.40,159.60 C250.63,164.18 252.33,172.43 253.90,177.50 C255.47,182.57 257.33,186.22 258.80,190.00 C260.27,193.78 261.20,196.80 262.70,200.20 C264.20,203.60 266.10,207.42 267.80,210.40 C269.50,213.38 271.32,215.93 272.90,218.10 C274.48,220.27 275.82,222.02 277.30,223.40 C278.78,224.78 279.98,225.73 281.80,226.40 C283.62,227.07 286.08,227.17 288.20,227.40 C290.32,227.63 292.38,227.63 294.50,227.80 C296.62,227.97 299.07,228.28 300.90,228.40 C302.73,228.52 303.93,228.70 305.50,228.50 C307.07,228.30 308.55,227.85 310.30,227.20 C312.05,226.55 314.30,225.45 316.00,224.60 C317.70,223.75 318.80,222.90 320.50,222.10 C322.20,221.30 324.28,220.75 326.20,219.80 C328.12,218.85 330.40,217.50 332.00,216.40 C333.60,215.30 334.53,214.38 335.80,213.20 C337.07,212.02 338.37,210.58 339.60,209.30 C340.83,208.02 342.60,206.13 343.20,205.50 L343.20,236.8 L69.10,236.8 Z" fill="#767640"/></g></g>
</g>
<text x="135.50" y="146.50" font-size="18" font-weight="bold" fill="#000" text-anchor="start" stroke="#000" stroke-width="0.35">MFY</text>
<g clip-path="url(#cA)"><text x="281.30" y="222.90" font-size="17" font-weight="bold" fill="#000" text-anchor="start" stroke="#000" stroke-width="0.35">PtTFPP</text></g>
<g clip-path="url(#cA)">
<path d="M69.10,228.90 C70.25,228.85 73.70,228.82 76.00,228.60 C78.30,228.38 80.23,228.08 82.90,227.60 C85.57,227.12 89.63,226.33 92.00,225.70 C94.37,225.07 95.30,224.48 97.10,223.80 C98.90,223.12 101.00,222.47 102.80,221.60 C104.60,220.73 106.30,219.70 107.90,218.60 C109.50,217.50 110.97,216.37 112.40,215.00 C113.83,213.63 115.22,212.02 116.50,210.40 C117.78,208.78 118.98,206.93 120.10,205.30 C121.22,203.67 122.15,202.28 123.20,200.60 C124.25,198.92 125.27,196.90 126.40,195.20 C127.53,193.50 128.90,192.07 130.00,190.40 C131.10,188.73 132.07,186.93 133.00,185.20 C133.93,183.47 134.68,181.77 135.60,180.00 C136.52,178.23 137.48,176.38 138.50,174.60 C139.52,172.82 140.80,170.85 141.70,169.30 C142.60,167.75 143.15,166.65 143.90,165.30 C144.65,163.95 145.38,162.53 146.20,161.20 C147.02,159.87 147.90,158.83 148.80,157.30 C149.70,155.77 150.65,153.88 151.60,152.00 C152.55,150.12 153.65,148.08 154.50,146.00 C155.35,143.92 156.03,141.58 156.70,139.50 C157.37,137.42 157.90,135.42 158.50,133.50 C159.10,131.58 159.62,130.25 160.30,128.00 C160.98,125.75 161.90,122.25 162.60,120.00 C163.30,117.75 163.77,116.78 164.50,114.50 C165.23,112.22 166.15,109.02 167.00,106.30 C167.85,103.58 168.68,101.08 169.60,98.20 C170.52,95.32 171.48,92.10 172.50,89.00 C173.52,85.90 174.83,81.87 175.70,79.60 C176.57,77.33 177.05,76.97 177.70,75.40 C178.35,73.83 178.85,72.02 179.60,70.20 C180.35,68.38 181.32,66.28 182.20,64.50 C183.08,62.72 183.93,61.17 184.90,59.50 C185.87,57.83 186.88,56.12 188.00,54.50 C189.12,52.88 190.05,51.13 191.60,49.80 C193.15,48.47 195.48,46.67 197.30,46.50 C199.12,46.33 200.62,47.65 202.50,48.80 C204.38,49.95 206.68,50.88 208.60,53.40 C210.52,55.92 212.20,60.37 214.00,63.90 C215.80,67.43 217.77,71.02 219.40,74.60 C221.03,78.18 222.20,81.67 223.80,85.40 C225.40,89.13 227.18,92.30 229.00,97.00 C230.82,101.70 233.15,108.77 234.70,113.60 C236.25,118.43 236.95,121.83 238.30,126.00 C239.65,130.17 241.43,134.60 242.80,138.60 C244.17,142.60 245.40,146.50 246.50,150.00 C247.60,153.50 248.17,155.02 249.40,159.60 C250.63,164.18 252.33,172.43 253.90,177.50 C255.47,182.57 257.33,186.22 258.80,190.00 C260.27,193.78 261.20,196.80 262.70,200.20 C264.20,203.60 266.10,207.42 267.80,210.40 C269.50,213.38 271.32,215.93 272.90,218.10 C274.48,220.27 275.82,222.02 277.30,223.40 C278.78,224.78 279.98,225.73 281.80,226.40 C283.62,227.07 286.08,227.17 288.20,227.40 C290.32,227.63 292.38,227.63 294.50,227.80 C296.62,227.97 299.07,228.28 300.90,228.40 C302.73,228.52 303.93,228.70 305.50,228.50 C307.07,228.30 308.55,227.85 310.30,227.20 C312.05,226.55 314.30,225.45 316.00,224.60 C317.70,223.75 318.80,222.90 320.50,222.10 C322.20,221.30 324.28,220.75 326.20,219.80 C328.12,218.85 330.40,217.50 332.00,216.40 C333.60,215.30 334.53,214.38 335.80,213.20 C337.07,212.02 338.37,210.58 339.60,209.30 C340.83,208.02 342.60,206.13 343.20,205.50" fill="none" stroke="#5ff000" stroke-width="3.0" stroke-dasharray="1.5 4.1" stroke-linecap="round"/>
<g clip-path="url(#cPA)"><path d="M69.10,228.90 C70.25,228.85 73.70,228.82 76.00,228.60 C78.30,228.38 80.23,228.08 82.90,227.60 C85.57,227.12 89.63,226.33 92.00,225.70 C94.37,225.07 95.30,224.48 97.10,223.80 C98.90,223.12 101.00,222.47 102.80,221.60 C104.60,220.73 106.30,219.70 107.90,218.60 C109.50,217.50 110.97,216.37 112.40,215.00 C113.83,213.63 115.22,212.02 116.50,210.40 C117.78,208.78 118.98,206.93 120.10,205.30 C121.22,203.67 122.15,202.28 123.20,200.60 C124.25,198.92 125.27,196.90 126.40,195.20 C127.53,193.50 128.90,192.07 130.00,190.40 C131.10,188.73 132.07,186.93 133.00,185.20 C133.93,183.47 134.68,181.77 135.60,180.00 C136.52,178.23 137.48,176.38 138.50,174.60 C139.52,172.82 140.80,170.85 141.70,169.30 C142.60,167.75 143.15,166.65 143.90,165.30 C144.65,163.95 145.38,162.53 146.20,161.20 C147.02,159.87 147.90,158.83 148.80,157.30 C149.70,155.77 150.65,153.88 151.60,152.00 C152.55,150.12 153.65,148.08 154.50,146.00 C155.35,143.92 156.03,141.58 156.70,139.50 C157.37,137.42 157.90,135.42 158.50,133.50 C159.10,131.58 159.62,130.25 160.30,128.00 C160.98,125.75 161.90,122.25 162.60,120.00 C163.30,117.75 163.77,116.78 164.50,114.50 C165.23,112.22 166.15,109.02 167.00,106.30 C167.85,103.58 168.68,101.08 169.60,98.20 C170.52,95.32 171.48,92.10 172.50,89.00 C173.52,85.90 174.83,81.87 175.70,79.60 C176.57,77.33 177.05,76.97 177.70,75.40 C178.35,73.83 178.85,72.02 179.60,70.20 C180.35,68.38 181.32,66.28 182.20,64.50 C183.08,62.72 183.93,61.17 184.90,59.50 C185.87,57.83 186.88,56.12 188.00,54.50 C189.12,52.88 190.05,51.13 191.60,49.80 C193.15,48.47 195.48,46.67 197.30,46.50 C199.12,46.33 200.62,47.65 202.50,48.80 C204.38,49.95 206.68,50.88 208.60,53.40 C210.52,55.92 212.20,60.37 214.00,63.90 C215.80,67.43 217.77,71.02 219.40,74.60 C221.03,78.18 222.20,81.67 223.80,85.40 C225.40,89.13 227.18,92.30 229.00,97.00 C230.82,101.70 233.15,108.77 234.70,113.60 C236.25,118.43 236.95,121.83 238.30,126.00 C239.65,130.17 241.43,134.60 242.80,138.60 C244.17,142.60 245.40,146.50 246.50,150.00 C247.60,153.50 248.17,155.02 249.40,159.60 C250.63,164.18 252.33,172.43 253.90,177.50 C255.47,182.57 257.33,186.22 258.80,190.00 C260.27,193.78 261.20,196.80 262.70,200.20 C264.20,203.60 266.10,207.42 267.80,210.40 C269.50,213.38 271.32,215.93 272.90,218.10 C274.48,220.27 275.82,222.02 277.30,223.40 C278.78,224.78 279.98,225.73 281.80,226.40 C283.62,227.07 286.08,227.17 288.20,227.40 C290.32,227.63 292.38,227.63 294.50,227.80 C296.62,227.97 299.07,228.28 300.90,228.40 C302.73,228.52 303.93,228.70 305.50,228.50 C307.07,228.30 308.55,227.85 310.30,227.20 C312.05,226.55 314.30,225.45 316.00,224.60 C317.70,223.75 318.80,222.90 320.50,222.10 C322.20,221.30 324.28,220.75 326.20,219.80 C328.12,218.85 330.40,217.50 332.00,216.40 C333.60,215.30 334.53,214.38 335.80,213.20 C337.07,212.02 338.37,210.58 339.60,209.30 C340.83,208.02 342.60,206.13 343.20,205.50" fill="none" stroke="#16b016" stroke-width="3.0" stroke-dasharray="1.5 4.1" stroke-linecap="round"/></g>
<path d="M112.80,236.80 C113.33,236.38 114.87,235.17 116.00,234.30 C117.13,233.43 118.32,232.72 119.60,231.60 C120.88,230.48 122.52,229.12 123.70,227.60 C124.88,226.08 125.85,224.38 126.70,222.50 C127.55,220.62 128.22,218.38 128.80,216.30 C129.38,214.22 129.77,211.88 130.20,210.00 C130.63,208.12 130.93,206.83 131.40,205.00 C131.87,203.17 132.37,201.50 133.00,199.00 C133.63,196.50 134.47,193.17 135.20,190.00 C135.93,186.83 136.67,183.33 137.40,180.00 C138.13,176.67 138.87,173.33 139.60,170.00 C140.33,166.67 141.03,162.73 141.80,160.00 C142.57,157.27 143.33,155.33 144.20,153.60 C145.07,151.87 145.78,150.43 147.00,149.60 C148.22,148.77 150.17,148.70 151.50,148.60 C152.83,148.50 153.88,148.67 155.00,149.00 C156.12,149.33 156.90,149.97 158.20,150.60 C159.50,151.23 161.00,151.70 162.80,152.80 C164.60,153.90 166.88,155.50 169.00,157.20 C171.12,158.90 173.35,160.67 175.50,163.00 C177.65,165.33 179.77,168.13 181.90,171.20 C184.03,174.27 186.18,178.20 188.30,181.40 C190.42,184.60 192.58,187.77 194.60,190.40 C196.62,193.03 197.95,195.08 200.40,197.20 C202.85,199.32 206.63,201.38 209.30,203.10 C211.97,204.82 214.02,206.05 216.40,207.50 C218.78,208.95 221.22,210.32 223.60,211.80 C225.98,213.28 228.03,214.87 230.70,216.40 C233.37,217.93 236.62,219.67 239.60,221.00 C242.58,222.33 245.62,223.47 248.60,224.40 C251.58,225.33 254.77,226.08 257.50,226.60 C260.23,227.12 262.92,227.38 265.00,227.50 C267.08,227.62 268.67,227.48 270.00,227.30 C271.33,227.12 272.07,226.90 273.00,226.40 C273.93,225.90 274.70,225.33 275.60,224.30 C276.50,223.27 277.45,222.38 278.40,220.20 C279.35,218.02 280.48,213.98 281.30,211.20 C282.12,208.42 282.77,205.87 283.30,203.50 C283.83,201.13 284.13,199.50 284.50,197.00 C284.87,194.50 285.12,192.00 285.50,188.50 C285.88,185.00 286.35,180.32 286.80,176.00 C287.25,171.68 287.75,167.77 288.20,162.60 C288.65,157.43 289.07,150.10 289.50,145.00 C289.93,139.90 290.30,137.83 290.80,132.00 C291.30,126.17 291.97,117.00 292.50,110.00 C293.03,103.00 293.53,96.23 294.00,90.00 C294.47,83.77 294.77,78.38 295.30,72.60 C295.83,66.82 296.50,60.40 297.20,55.30 C297.90,50.20 298.73,45.55 299.50,42.00 C300.27,38.45 301.02,34.00 301.80,34.00 C302.58,34.00 303.43,38.45 304.20,42.00 C304.97,45.55 305.68,50.20 306.40,55.30 C307.12,60.40 307.65,65.98 308.50,72.60 C309.35,79.22 310.65,88.43 311.50,95.00 C312.35,101.57 312.82,106.17 313.60,112.00 C314.38,117.83 315.45,124.50 316.20,130.00 C316.95,135.50 317.27,139.55 318.10,145.00 C318.93,150.45 320.32,158.72 321.20,162.70 C322.08,166.68 322.67,166.67 323.40,168.90 C324.13,171.13 324.85,173.72 325.60,176.10 C326.35,178.48 327.08,181.12 327.90,183.20 C328.72,185.28 329.47,187.07 330.50,188.60 C331.53,190.13 332.75,191.57 334.10,192.40 C335.45,193.23 337.08,193.42 338.60,193.60 C340.12,193.78 342.43,193.52 343.20,193.50" fill="none" stroke="#000" stroke-width="3" stroke-linejoin="round"/>
<path d="M147.00,149.60 C147.85,149.34 150.58,148.28 152.08,148.02 C153.58,147.75 154.81,147.74 156.00,148.00 C157.19,148.26 157.90,148.97 159.20,149.60 C160.50,150.23 162.00,150.70 163.80,151.80 C165.60,152.90 167.88,154.50 170.00,156.20 C172.12,157.90 174.30,159.72 176.50,162.00 C178.70,164.28 181.02,166.88 183.20,169.90 C185.38,172.92 187.48,176.90 189.60,180.10 C191.72,183.30 193.88,186.47 195.90,189.10 C197.92,191.73 199.25,193.78 201.70,195.90 C204.15,198.02 207.98,200.04 210.60,201.80 C213.22,203.56 215.23,204.84 217.44,206.46 C219.65,208.08 221.65,209.88 223.86,211.54 C226.07,213.20 228.08,214.82 230.70,216.40 C233.32,217.98 236.62,219.67 239.60,221.00 C242.58,222.33 245.62,223.47 248.60,224.40 C251.58,225.33 254.77,226.08 257.50,226.60 C260.23,227.12 262.92,227.38 265.00,227.50 C267.08,227.62 268.67,227.48 270.00,227.30 C271.33,227.12 272.50,226.55 273.00,226.40" fill="none" stroke="#000" stroke-width="2.6" stroke-dasharray="5 2.5"/>
<path d="M262.00,228.20 C263.00,228.27 266.08,228.67 268.00,228.60 C269.92,228.53 272.00,228.23 273.50,227.80 C275.00,227.37 276.00,226.72 277.00,226.00 C278.00,225.28 278.67,224.67 279.50,223.50 C280.33,222.33 281.25,220.58 282.00,219.00 C282.75,217.42 283.17,215.92 284.00,214.00 C284.83,212.08 286.10,209.75 287.00,207.50 C287.90,205.25 288.70,202.58 289.40,200.50 C290.10,198.42 290.60,197.08 291.20,195.00 C291.80,192.92 292.37,190.67 293.00,188.00 C293.63,185.33 294.27,181.92 295.00,179.00 C295.73,176.08 296.57,172.73 297.40,170.50 C298.23,168.27 299.10,166.75 300.00,165.60 C300.90,164.45 301.88,163.65 302.80,163.60 C303.72,163.55 304.73,163.98 305.50,165.30 C306.27,166.62 306.58,168.88 307.40,171.50 C308.22,174.12 309.40,177.83 310.40,181.00 C311.40,184.17 312.47,187.75 313.40,190.50 C314.33,193.25 315.13,195.22 316.00,197.50 C316.87,199.78 317.72,201.98 318.60,204.20 C319.48,206.42 320.48,208.58 321.30,210.80 C322.12,213.02 323.13,216.38 323.50,217.50" fill="none" stroke="#000" stroke-width="2.8" stroke-dasharray="7 2.6"/>
</g>
<text x="181.80" y="97.20" font-size="10.8" font-weight="bold" fill="#0fa00f" text-anchor="start" stroke="#0fa00f" stroke-width="0.35">green</text>
<text x="179.20" y="110.20" font-size="10.9" font-weight="bold" fill="#0fa00f" text-anchor="start" stroke="#0fa00f" stroke-width="0.35">channel</text>
<text x="247.50" y="97.00" font-size="10.9" font-weight="bold" fill="#ff0000" text-anchor="start" stroke="#ff0000" stroke-width="0.35">red</text>
<text x="239.00" y="110.20" font-size="10.9" font-weight="bold" fill="#ff0000" text-anchor="start" stroke="#ff0000" stroke-width="0.35">channel</text>
<line x1="68.20" y1="34.50" x2="344.10" y2="34.50" stroke="#000" stroke-width="1.8"/>
<line x1="68.20" y1="236.80" x2="344.10" y2="236.80" stroke="#000" stroke-width="1.8"/>
<line x1="69.10" y1="34.50" x2="69.10" y2="236.80" stroke="#000" stroke-width="1.8"/>
<line x1="343.20" y1="34.50" x2="343.20" y2="56.00" stroke="#000" stroke-width="1.8"/>
<line x1="343.20" y1="72.60" x2="343.20" y2="236.80" stroke="#000" stroke-width="1.8"/>
<path d="M343.2,72.8 L343.2,193.5" stroke="#ff0000" stroke-width="3.2" stroke-dasharray="1.6 4.9" stroke-linecap="round" fill="none"/>
<line x1="343.20" y1="72.60" x2="343.20" y2="236.80" stroke="#000" stroke-width="1.2"/>
<line x1="64.50" y1="236.80" x2="69.10" y2="236.80" stroke="#000" stroke-width="1.8"/>
<line x1="338.60" y1="236.80" x2="343.20" y2="236.80" stroke="#000" stroke-width="1.6"/>
<line x1="64.50" y1="186.23" x2="69.10" y2="186.23" stroke="#000" stroke-width="1.8"/>
<line x1="338.60" y1="186.23" x2="343.20" y2="186.23" stroke="#000" stroke-width="1.6"/>
<line x1="64.50" y1="135.65" x2="69.10" y2="135.65" stroke="#000" stroke-width="1.8"/>
<line x1="338.60" y1="135.65" x2="343.20" y2="135.65" stroke="#000" stroke-width="1.6"/>
<line x1="64.50" y1="85.08" x2="69.10" y2="85.08" stroke="#000" stroke-width="1.8"/>
<line x1="338.60" y1="85.08" x2="343.20" y2="85.08" stroke="#000" stroke-width="1.6"/>
<line x1="64.50" y1="34.50" x2="69.10" y2="34.50" stroke="#000" stroke-width="1.8"/>
<line x1="338.60" y1="34.50" x2="343.20" y2="34.50" stroke="#000" stroke-width="1.6"/>
<line x1="66.50" y1="211.51" x2="69.10" y2="211.51" stroke="#000" stroke-width="1.6"/>
<line x1="340.40" y1="211.51" x2="343.20" y2="211.51" stroke="#000" stroke-width="1.6"/>
<line x1="66.50" y1="160.94" x2="69.10" y2="160.94" stroke="#000" stroke-width="1.6"/>
<line x1="340.40" y1="160.94" x2="343.20" y2="160.94" stroke="#000" stroke-width="1.6"/>
<line x1="66.50" y1="110.36" x2="69.10" y2="110.36" stroke="#000" stroke-width="1.6"/>
<line x1="340.40" y1="110.36" x2="343.20" y2="110.36" stroke="#000" stroke-width="1.6"/>
<line x1="66.50" y1="59.79" x2="69.10" y2="59.79" stroke="#000" stroke-width="1.6"/>
<line x1="340.40" y1="59.79" x2="343.20" y2="59.79" stroke="#000" stroke-width="1.6"/>
<line x1="69.10" y1="236.80" x2="69.10" y2="241.40" stroke="#000" stroke-width="1.6"/>
<line x1="69.10" y1="34.50" x2="69.10" y2="38.50" stroke="#000" stroke-width="1.6"/>
<line x1="114.78" y1="236.80" x2="114.78" y2="240.80" stroke="#000" stroke-width="1.6"/>
<line x1="114.78" y1="34.50" x2="114.78" y2="38.50" stroke="#000" stroke-width="1.6"/>
<line x1="160.47" y1="236.80" x2="160.47" y2="241.40" stroke="#000" stroke-width="1.6"/>
<line x1="160.47" y1="34.50" x2="160.47" y2="38.50" stroke="#000" stroke-width="1.6"/>
<line x1="206.15" y1="236.80" x2="206.15" y2="240.80" stroke="#000" stroke-width="1.6"/>
<line x1="206.15" y1="34.50" x2="206.15" y2="38.50" stroke="#000" stroke-width="1.6"/>
<line x1="251.83" y1="236.80" x2="251.83" y2="241.40" stroke="#000" stroke-width="1.6"/>
<line x1="251.83" y1="34.50" x2="251.83" y2="38.50" stroke="#000" stroke-width="1.6"/>
<line x1="297.52" y1="236.80" x2="297.52" y2="240.80" stroke="#000" stroke-width="1.6"/>
<line x1="297.52" y1="34.50" x2="297.52" y2="38.50" stroke="#000" stroke-width="1.6"/>
<line x1="343.20" y1="236.80" x2="343.20" y2="241.40" stroke="#000" stroke-width="1.6"/>
<line x1="343.20" y1="34.50" x2="343.20" y2="38.50" stroke="#000" stroke-width="1.6"/>
<text x="62.70" y="240.60" font-size="12.5" fill="#000" text-anchor="end" >0</text>
<text x="348.20" y="240.60" font-size="12.5" fill="#000" text-anchor="start" >0</text>
<text x="62.70" y="190.03" font-size="12.5" fill="#000" text-anchor="end" >25</text>
<text x="348.20" y="190.03" font-size="12.5" fill="#000" text-anchor="start" >25</text>
<text x="62.70" y="139.45" font-size="12.5" fill="#000" text-anchor="end" >50</text>
<text x="348.20" y="139.45" font-size="12.5" fill="#000" text-anchor="start" >50</text>
<text x="62.70" y="88.88" font-size="12.5" fill="#000" text-anchor="end" >75</text>
<text x="348.20" y="88.88" font-size="12.5" fill="#000" text-anchor="start" >75</text>
<text x="62.70" y="38.30" font-size="12.5" fill="#000" text-anchor="end" >100</text>
<text x="348.20" y="38.30" font-size="12.5" fill="#000" text-anchor="start" >100</text>
<text x="69.10" y="252.70" font-size="12.5" fill="#000" text-anchor="middle" >400</text>
<text x="160.47" y="252.70" font-size="12.5" fill="#000" text-anchor="middle" >500</text>
<text x="251.83" y="252.70" font-size="12.5" fill="#000" text-anchor="middle" >600</text>
<text x="343.20" y="252.70" font-size="12.5" fill="#000" text-anchor="middle" >700</text>
<rect x="261.1" y="56.0" width="84" height="16.6" fill="#fff"/>
<text x="303.20" y="68.30" font-size="10.8" font-weight="bold" fill="#000" text-anchor="middle" stroke="#000" stroke-width="0.35">deoxygenated</text>
<rect x="263.7" y="145.4" width="72.6" height="17.1" fill="#fff"/>
<text x="299.90" y="157.60" font-size="10.8" font-weight="bold" fill="#000" text-anchor="middle" stroke="#000" stroke-width="0.35">airsaturated</text>
<text x="189.30" y="276.50" font-size="13" fill="#000" text-anchor="start" >λ</text>
<text x="200.90" y="276.50" font-size="13" fill="#000" text-anchor="start" >/</text>
<text x="208.60" y="276.50" font-size="12.8" fill="#000" text-anchor="start" >nm</text>
<text x="186.30" y="22.10" font-size="21.3" fill="#000" text-anchor="start" >(</text>
<text x="207.00" y="22.10" font-size="21.3" fill="#000" text-anchor="start" >)</text>
<text x="193.30" y="20.60" font-size="19.5" fill="#000" text-anchor="start" >A</text>
<text transform="translate(33,144.25) rotate(-90)" font-size="14" text-anchor="middle" fill="#000">rel. sensitivity of color channels / %</text>
<text transform="translate(385,144.5) rotate(-90)" font-size="14" text-anchor="middle" fill="#000">rel. emission intensity / %</text>
<clipPath id="cB0"><rect x="69.8" y="319.30" width="273.00" height="71.9"/></clipPath>
<g clip-path="url(#cB0)" fill="#ff0000">
<rect x="67.50" y="369.00" width="4.6" height="4.6"/>
<rect x="74.88" y="372.40" width="4.6" height="4.6"/>
<rect x="82.26" y="360.10" width="4.6" height="4.6"/>
<rect x="89.64" y="346.30" width="4.6" height="4.6"/>
<rect x="97.02" y="344.50" width="4.6" height="4.6"/>
<rect x="104.40" y="341.60" width="4.6" height="4.6"/>
<rect x="111.78" y="343.20" width="4.6" height="4.6"/>
<rect x="119.16" y="341.60" width="4.6" height="4.6"/>
<rect x="126.54" y="342.40" width="4.6" height="4.6"/>
<rect x="133.92" y="347.80" width="4.6" height="4.6"/>
<rect x="141.30" y="365.10" width="4.6" height="4.6"/>
<rect x="148.68" y="370.70" width="4.6" height="4.6"/>
<rect x="156.06" y="373.90" width="4.6" height="4.6"/>
<rect x="163.44" y="375.60" width="4.6" height="4.6"/>
<rect x="170.82" y="363.80" width="4.6" height="4.6"/>
<rect x="178.20" y="349.30" width="4.6" height="4.6"/>
<rect x="185.58" y="347.00" width="4.6" height="4.6"/>
<rect x="192.96" y="345.50" width="4.6" height="4.6"/>
<rect x="200.34" y="343.90" width="4.6" height="4.6"/>
<rect x="207.72" y="343.20" width="4.6" height="4.6"/>
<rect x="215.10" y="345.20" width="4.6" height="4.6"/>
<rect x="222.48" y="358.70" width="4.6" height="4.6"/>
<rect x="229.86" y="369.20" width="4.6" height="4.6"/>
<rect x="237.24" y="373.30" width="4.6" height="4.6"/>
<rect x="244.62" y="375.80" width="4.6" height="4.6"/>
<rect x="252.00" y="376.60" width="4.6" height="4.6"/>
<rect x="259.38" y="353.10" width="4.6" height="4.6"/>
<rect x="266.76" y="348.30" width="4.6" height="4.6"/>
<rect x="274.14" y="347.00" width="4.6" height="4.6"/>
<rect x="281.52" y="346.20" width="4.6" height="4.6"/>
<rect x="288.90" y="346.00" width="4.6" height="4.6"/>
<rect x="296.28" y="344.70" width="4.6" height="4.6"/>
<rect x="303.66" y="346.20" width="4.6" height="4.6"/>
<rect x="311.04" y="351.60" width="4.6" height="4.6"/>
<rect x="318.42" y="367.90" width="4.6" height="4.6"/>
<rect x="325.80" y="373.80" width="4.6" height="4.6"/>
<rect x="333.18" y="376.60" width="4.6" height="4.6"/>
<rect x="340.56" y="378.60" width="4.6" height="4.6"/>
</g>
<line x1="68.90" y1="319.30" x2="343.70" y2="319.30" stroke="#000" stroke-width="1.8"/>
<line x1="68.90" y1="391.20" x2="343.70" y2="391.20" stroke="#000" stroke-width="1.8"/>
<line x1="69.80" y1="319.30" x2="69.80" y2="391.20" stroke="#000" stroke-width="1.8"/>
<line x1="342.80" y1="319.30" x2="342.80" y2="391.20" stroke="#000" stroke-width="1.8"/>
<line x1="65.20" y1="391.20" x2="69.80" y2="391.20" stroke="#000" stroke-width="1.8"/>
<line x1="338.20" y1="391.20" x2="342.80" y2="391.20" stroke="#000" stroke-width="1.6"/>
<text x="63.60" y="394.80" font-size="10.5" font-weight="bold" fill="#000" text-anchor="end" >50</text>
<line x1="65.20" y1="355.25" x2="69.80" y2="355.25" stroke="#000" stroke-width="1.8"/>
<line x1="338.20" y1="355.25" x2="342.80" y2="355.25" stroke="#000" stroke-width="1.6"/>
<text x="63.60" y="358.85" font-size="10.5" font-weight="bold" fill="#000" text-anchor="end" >100</text>
<line x1="65.20" y1="319.30" x2="69.80" y2="319.30" stroke="#000" stroke-width="1.8"/>
<line x1="338.20" y1="319.30" x2="342.80" y2="319.30" stroke="#000" stroke-width="1.6"/>
<text x="63.60" y="322.90" font-size="10.5" font-weight="bold" fill="#000" text-anchor="end" >150</text>
<line x1="67.20" y1="373.23" x2="69.80" y2="373.23" stroke="#000" stroke-width="1.6"/>
<line x1="340.00" y1="373.23" x2="342.80" y2="373.23" stroke="#000" stroke-width="1.6"/>
<line x1="67.20" y1="337.28" x2="69.80" y2="337.28" stroke="#000" stroke-width="1.6"/>
<line x1="340.00" y1="337.28" x2="342.80" y2="337.28" stroke="#000" stroke-width="1.6"/>
<line x1="69.80" y1="391.20" x2="69.80" y2="395.60" stroke="#000" stroke-width="1.6"/>
<line x1="69.80" y1="319.30" x2="69.80" y2="323.30" stroke="#000" stroke-width="1.6"/>
<line x1="125.35" y1="391.20" x2="125.35" y2="394.80" stroke="#000" stroke-width="1.6"/>
<line x1="125.35" y1="319.30" x2="125.35" y2="323.30" stroke="#000" stroke-width="1.6"/>
<line x1="180.90" y1="391.20" x2="180.90" y2="395.60" stroke="#000" stroke-width="1.6"/>
<line x1="180.90" y1="319.30" x2="180.90" y2="323.30" stroke="#000" stroke-width="1.6"/>
<line x1="236.45" y1="391.20" x2="236.45" y2="394.80" stroke="#000" stroke-width="1.6"/>
<line x1="236.45" y1="319.30" x2="236.45" y2="323.30" stroke="#000" stroke-width="1.6"/>
<line x1="292.00" y1="391.20" x2="292.00" y2="395.60" stroke="#000" stroke-width="1.6"/>
<line x1="292.00" y1="319.30" x2="292.00" y2="323.30" stroke="#000" stroke-width="1.6"/>
<clipPath id="cB1"><rect x="69.8" y="415.50" width="273.00" height="71.9"/></clipPath>
<g clip-path="url(#cB1)" fill="#0e9e0e">
<rect x="67.50" y="443.20" width="4.6" height="4.6"/>
<rect x="74.88" y="443.23" width="4.6" height="4.6"/>
<rect x="82.26" y="443.26" width="4.6" height="4.6"/>
<rect x="89.64" y="443.30" width="4.6" height="4.6"/>
<rect x="97.02" y="443.33" width="4.6" height="4.6"/>
<rect x="104.40" y="443.36" width="4.6" height="4.6"/>
<rect x="111.78" y="443.39" width="4.6" height="4.6"/>
<rect x="119.16" y="443.43" width="4.6" height="4.6"/>
<rect x="126.54" y="443.46" width="4.6" height="4.6"/>
<rect x="133.92" y="443.49" width="4.6" height="4.6"/>
<rect x="141.30" y="443.52" width="4.6" height="4.6"/>
<rect x="148.68" y="443.56" width="4.6" height="4.6"/>
<rect x="156.06" y="443.59" width="4.6" height="4.6"/>
<rect x="163.44" y="443.62" width="4.6" height="4.6"/>
<rect x="170.82" y="443.65" width="4.6" height="4.6"/>
<rect x="178.20" y="443.69" width="4.6" height="4.6"/>
<rect x="185.58" y="443.72" width="4.6" height="4.6"/>
<rect x="192.96" y="443.75" width="4.6" height="4.6"/>
<rect x="200.34" y="443.78" width="4.6" height="4.6"/>
<rect x="207.72" y="443.82" width="4.6" height="4.6"/>
<rect x="215.10" y="443.85" width="4.6" height="4.6"/>
<rect x="222.48" y="443.88" width="4.6" height="4.6"/>
<rect x="229.86" y="443.91" width="4.6" height="4.6"/>
<rect x="237.24" y="443.95" width="4.6" height="4.6"/>
<rect x="244.62" y="443.98" width="4.6" height="4.6"/>
<rect x="252.00" y="444.01" width="4.6" height="4.6"/>
<rect x="259.38" y="444.04" width="4.6" height="4.6"/>
<rect x="266.76" y="444.08" width="4.6" height="4.6"/>
<rect x="274.14" y="444.11" width="4.6" height="4.6"/>
<rect x="281.52" y="444.14" width="4.6" height="4.6"/>
<rect x="288.90" y="444.17" width="4.6" height="4.6"/>
<rect x="296.28" y="444.21" width="4.6" height="4.6"/>
<rect x="303.66" y="444.24" width="4.6" height="4.6"/>
<rect x="311.04" y="444.27" width="4.6" height="4.6"/>
<rect x="318.42" y="444.30" width="4.6" height="4.6"/>
<rect x="325.80" y="444.34" width="4.6" height="4.6"/>
<rect x="333.18" y="444.37" width="4.6" height="4.6"/>
<rect x="340.56" y="444.40" width="4.6" height="4.6"/>
</g>
<line x1="68.90" y1="415.50" x2="343.70" y2="415.50" stroke="#000" stroke-width="1.8"/>
<line x1="68.90" y1="487.40" x2="343.70" y2="487.40" stroke="#000" stroke-width="1.8"/>
<line x1="69.80" y1="415.50" x2="69.80" y2="487.40" stroke="#000" stroke-width="1.8"/>
<line x1="342.80" y1="415.50" x2="342.80" y2="487.40" stroke="#000" stroke-width="1.8"/>
<line x1="65.20" y1="487.40" x2="69.80" y2="487.40" stroke="#000" stroke-width="1.8"/>
<line x1="338.20" y1="487.40" x2="342.80" y2="487.40" stroke="#000" stroke-width="1.6"/>
<text x="63.60" y="491.00" font-size="10.5" font-weight="bold" fill="#000" text-anchor="end" >50</text>
<line x1="65.20" y1="451.45" x2="69.80" y2="451.45" stroke="#000" stroke-width="1.8"/>
<line x1="338.20" y1="451.45" x2="342.80" y2="451.45" stroke="#000" stroke-width="1.6"/>
<text x="63.60" y="455.05" font-size="10.5" font-weight="bold" fill="#000" text-anchor="end" >100</text>
<line x1="65.20" y1="415.50" x2="69.80" y2="415.50" stroke="#000" stroke-width="1.8"/>
<line x1="338.20" y1="415.50" x2="342.80" y2="415.50" stroke="#000" stroke-width="1.6"/>
<text x="63.60" y="419.10" font-size="10.5" font-weight="bold" fill="#000" text-anchor="end" >150</text>
<line x1="67.20" y1="469.42" x2="69.80" y2="469.42" stroke="#000" stroke-width="1.6"/>
<line x1="340.00" y1="469.42" x2="342.80" y2="469.42" stroke="#000" stroke-width="1.6"/>
<line x1="67.20" y1="433.47" x2="69.80" y2="433.47" stroke="#000" stroke-width="1.6"/>
<line x1="340.00" y1="433.47" x2="342.80" y2="433.47" stroke="#000" stroke-width="1.6"/>
<line x1="69.80" y1="487.40" x2="69.80" y2="491.80" stroke="#000" stroke-width="1.6"/>
<line x1="69.80" y1="415.50" x2="69.80" y2="419.50" stroke="#000" stroke-width="1.6"/>
<line x1="125.35" y1="487.40" x2="125.35" y2="491.00" stroke="#000" stroke-width="1.6"/>
<line x1="125.35" y1="415.50" x2="125.35" y2="419.50" stroke="#000" stroke-width="1.6"/>
<line x1="180.90" y1="487.40" x2="180.90" y2="491.80" stroke="#000" stroke-width="1.6"/>
<line x1="180.90" y1="415.50" x2="180.90" y2="419.50" stroke="#000" stroke-width="1.6"/>
<line x1="236.45" y1="487.40" x2="236.45" y2="491.00" stroke="#000" stroke-width="1.6"/>
<line x1="236.45" y1="415.50" x2="236.45" y2="419.50" stroke="#000" stroke-width="1.6"/>
<line x1="292.00" y1="487.40" x2="292.00" y2="491.80" stroke="#000" stroke-width="1.6"/>
<line x1="292.00" y1="415.50" x2="292.00" y2="419.50" stroke="#000" stroke-width="1.6"/>
<clipPath id="cB2"><rect x="69.8" y="511.70" width="273.00" height="71.9"/></clipPath>
<g clip-path="url(#cB2)" fill="#000000">
<rect x="67.50" y="558.30" width="4.6" height="4.6"/>
<rect x="74.88" y="563.20" width="4.6" height="4.6"/>
<rect x="82.26" y="547.30" width="4.6" height="4.6"/>
<rect x="89.64" y="528.50" width="4.6" height="4.6"/>
<rect x="97.02" y="526.20" width="4.6" height="4.6"/>
<rect x="104.40" y="522.90" width="4.6" height="4.6"/>
<rect x="111.78" y="524.40" width="4.6" height="4.6"/>
<rect x="119.16" y="522.30" width="4.6" height="4.6"/>
<rect x="126.54" y="523.10" width="4.6" height="4.6"/>
<rect x="133.92" y="531.00" width="4.6" height="4.6"/>
<rect x="141.30" y="553.50" width="4.6" height="4.6"/>
<rect x="148.68" y="561.10" width="4.6" height="4.6"/>
<rect x="156.06" y="564.70" width="4.6" height="4.6"/>
<rect x="163.44" y="567.50" width="4.6" height="4.6"/>
<rect x="170.82" y="551.40" width="4.6" height="4.6"/>
<rect x="178.20" y="532.80" width="4.6" height="4.6"/>
<rect x="185.58" y="529.20" width="4.6" height="4.6"/>
<rect x="192.96" y="527.20" width="4.6" height="4.6"/>
<rect x="200.34" y="524.90" width="4.6" height="4.6"/>
<rect x="207.72" y="524.40" width="4.6" height="4.6"/>
<rect x="215.10" y="526.90" width="4.6" height="4.6"/>
<rect x="222.48" y="544.80" width="4.6" height="4.6"/>
<rect x="229.86" y="558.30" width="4.6" height="4.6"/>
<rect x="237.24" y="563.90" width="4.6" height="4.6"/>
<rect x="244.62" y="567.50" width="4.6" height="4.6"/>
<rect x="252.00" y="568.50" width="4.6" height="4.6"/>
<rect x="259.38" y="536.40" width="4.6" height="4.6"/>
<rect x="266.76" y="530.50" width="4.6" height="4.6"/>
<rect x="274.14" y="529.00" width="4.6" height="4.6"/>
<rect x="281.52" y="527.40" width="4.6" height="4.6"/>
<rect x="288.90" y="527.70" width="4.6" height="4.6"/>
<rect x="296.28" y="525.90" width="4.6" height="4.6"/>
<rect x="303.66" y="527.40" width="4.6" height="4.6"/>
<rect x="311.04" y="534.80" width="4.6" height="4.6"/>
<rect x="318.42" y="556.30" width="4.6" height="4.6"/>
<rect x="325.80" y="564.20" width="4.6" height="4.6"/>
<rect x="333.18" y="568.50" width="4.6" height="4.6"/>
<rect x="340.56" y="570.80" width="4.6" height="4.6"/>
</g>
<line x1="68.90" y1="511.70" x2="343.70" y2="511.70" stroke="#000" stroke-width="1.8"/>
<line x1="68.90" y1="583.60" x2="343.70" y2="583.60" stroke="#000" stroke-width="1.8"/>
<line x1="69.80" y1="511.70" x2="69.80" y2="583.60" stroke="#000" stroke-width="1.8"/>
<line x1="342.80" y1="511.70" x2="342.80" y2="583.60" stroke="#000" stroke-width="1.8"/>
<line x1="65.20" y1="583.60" x2="69.80" y2="583.60" stroke="#000" stroke-width="1.8"/>
<line x1="338.20" y1="583.60" x2="342.80" y2="583.60" stroke="#000" stroke-width="1.6"/>
<text x="63.60" y="587.20" font-size="10.5" font-weight="bold" fill="#000" text-anchor="end" >0.5</text>
<line x1="65.20" y1="532.24" x2="69.80" y2="532.24" stroke="#000" stroke-width="1.8"/>
<line x1="338.20" y1="532.24" x2="342.80" y2="532.24" stroke="#000" stroke-width="1.6"/>
<text x="63.60" y="535.84" font-size="10.5" font-weight="bold" fill="#000" text-anchor="end" >1.0</text>
<line x1="67.20" y1="557.92" x2="69.80" y2="557.92" stroke="#000" stroke-width="1.6"/>
<line x1="340.00" y1="557.92" x2="342.80" y2="557.92" stroke="#000" stroke-width="1.6"/>
<line x1="69.80" y1="583.60" x2="69.80" y2="588.00" stroke="#000" stroke-width="1.6"/>
<line x1="69.80" y1="511.70" x2="69.80" y2="515.70" stroke="#000" stroke-width="1.6"/>
<line x1="125.35" y1="583.60" x2="125.35" y2="587.20" stroke="#000" stroke-width="1.6"/>
<line x1="125.35" y1="511.70" x2="125.35" y2="515.70" stroke="#000" stroke-width="1.6"/>
<line x1="180.90" y1="583.60" x2="180.90" y2="588.00" stroke="#000" stroke-width="1.6"/>
<line x1="180.90" y1="511.70" x2="180.90" y2="515.70" stroke="#000" stroke-width="1.6"/>
<line x1="236.45" y1="583.60" x2="236.45" y2="587.20" stroke="#000" stroke-width="1.6"/>
<line x1="236.45" y1="511.70" x2="236.45" y2="515.70" stroke="#000" stroke-width="1.6"/>
<line x1="292.00" y1="583.60" x2="292.00" y2="588.00" stroke="#000" stroke-width="1.6"/>
<line x1="292.00" y1="511.70" x2="292.00" y2="515.70" stroke="#000" stroke-width="1.6"/>
<clipPath id="cB3"><rect x="69.8" y="607.90" width="273.00" height="71.9"/></clipPath>
<g clip-path="url(#cB3)" fill="#1a3cf0">
<rect x="67.50" y="644.40" width="4.6" height="4.6"/>
<rect x="74.88" y="637.50" width="4.6" height="4.6"/>
<rect x="82.26" y="658.40" width="4.6" height="4.6"/>
<rect x="89.64" y="675.20" width="4.6" height="4.6"/>
<rect x="97.02" y="676.30" width="4.6" height="4.6"/>
<rect x="104.40" y="677.80" width="4.6" height="4.6"/>
<rect x="111.78" y="677.30" width="4.6" height="4.6"/>
<rect x="119.16" y="678.10" width="4.6" height="4.6"/>
<rect x="126.54" y="677.50" width="4.6" height="4.6"/>
<rect x="133.92" y="673.30" width="4.6" height="4.6"/>
<rect x="141.30" y="651.00" width="4.6" height="4.6"/>
<rect x="148.68" y="640.80" width="4.6" height="4.6"/>
<rect x="156.06" y="634.70" width="4.6" height="4.6"/>
<rect x="163.44" y="630.10" width="4.6" height="4.6"/>
<rect x="170.82" y="653.60" width="4.6" height="4.6"/>
<rect x="178.20" y="671.90" width="4.6" height="4.6"/>
<rect x="185.58" y="674.20" width="4.6" height="4.6"/>
<rect x="192.96" y="675.80" width="4.6" height="4.6"/>
<rect x="200.34" y="676.80" width="4.6" height="4.6"/>
<rect x="207.72" y="677.50" width="4.6" height="4.6"/>
<rect x="215.10" y="676.00" width="4.6" height="4.6"/>
<rect x="222.48" y="661.00" width="4.6" height="4.6"/>
<rect x="229.86" y="644.90" width="4.6" height="4.6"/>
<rect x="237.24" y="636.20" width="4.6" height="4.6"/>
<rect x="244.62" y="630.60" width="4.6" height="4.6"/>
<rect x="252.00" y="628.60" width="4.6" height="4.6"/>
<rect x="259.38" y="668.60" width="4.6" height="4.6"/>
<rect x="266.76" y="673.50" width="4.6" height="4.6"/>
<rect x="274.14" y="674.50" width="4.6" height="4.6"/>
<rect x="281.52" y="675.50" width="4.6" height="4.6"/>
<rect x="288.90" y="675.30" width="4.6" height="4.6"/>
<rect x="296.28" y="676.50" width="4.6" height="4.6"/>
<rect x="303.66" y="675.30" width="4.6" height="4.6"/>
<rect x="311.04" y="670.10" width="4.6" height="4.6"/>
<rect x="318.42" y="647.40" width="4.6" height="4.6"/>
<rect x="325.80" y="636.20" width="4.6" height="4.6"/>
<rect x="333.18" y="628.60" width="4.6" height="4.6"/>
<rect x="340.56" y="623.20" width="4.6" height="4.6"/>
</g>
<line x1="68.90" y1="607.90" x2="343.70" y2="607.90" stroke="#000" stroke-width="1.8"/>
<line x1="68.90" y1="679.80" x2="343.70" y2="679.80" stroke="#000" stroke-width="1.8"/>
<line x1="69.80" y1="607.90" x2="69.80" y2="679.80" stroke="#000" stroke-width="1.8"/>
<line x1="342.80" y1="607.90" x2="342.80" y2="679.80" stroke="#000" stroke-width="1.8"/>
<line x1="65.20" y1="679.80" x2="69.80" y2="679.80" stroke="#000" stroke-width="1.8"/>
<line x1="338.20" y1="679.80" x2="342.80" y2="679.80" stroke="#000" stroke-width="1.6"/>
<text x="63.60" y="683.40" font-size="10.5" font-weight="bold" fill="#000" text-anchor="end" >0</text>
<line x1="65.20" y1="655.83" x2="69.80" y2="655.83" stroke="#000" stroke-width="1.8"/>
<line x1="338.20" y1="655.83" x2="342.80" y2="655.83" stroke="#000" stroke-width="1.6"/>
<text x="63.60" y="659.43" font-size="10.5" font-weight="bold" fill="#000" text-anchor="end" >100</text>
<line x1="65.20" y1="631.87" x2="69.80" y2="631.87" stroke="#000" stroke-width="1.8"/>
<line x1="338.20" y1="631.87" x2="342.80" y2="631.87" stroke="#000" stroke-width="1.6"/>
<text x="63.60" y="635.47" font-size="10.5" font-weight="bold" fill="#000" text-anchor="end" >200</text>
<line x1="65.20" y1="607.90" x2="69.80" y2="607.90" stroke="#000" stroke-width="1.8"/>
<line x1="338.20" y1="607.90" x2="342.80" y2="607.90" stroke="#000" stroke-width="1.6"/>
<text x="63.60" y="611.50" font-size="10.5" font-weight="bold" fill="#000" text-anchor="end" >300</text>
<line x1="67.20" y1="667.82" x2="69.80" y2="667.82" stroke="#000" stroke-width="1.6"/>
<line x1="340.00" y1="667.82" x2="342.80" y2="667.82" stroke="#000" stroke-width="1.6"/>
<line x1="67.20" y1="643.85" x2="69.80" y2="643.85" stroke="#000" stroke-width="1.6"/>
<line x1="340.00" y1="643.85" x2="342.80" y2="643.85" stroke="#000" stroke-width="1.6"/>
<line x1="67.20" y1="619.88" x2="69.80" y2="619.88" stroke="#000" stroke-width="1.6"/>
<line x1="340.00" y1="619.88" x2="342.80" y2="619.88" stroke="#000" stroke-width="1.6"/>
<line x1="69.80" y1="679.80" x2="69.80" y2="684.20" stroke="#000" stroke-width="1.6"/>
<line x1="69.80" y1="607.90" x2="69.80" y2="611.90" stroke="#000" stroke-width="1.6"/>
<line x1="125.35" y1="679.80" x2="125.35" y2="683.40" stroke="#000" stroke-width="1.6"/>
<line x1="125.35" y1="607.90" x2="125.35" y2="611.90" stroke="#000" stroke-width="1.6"/>
<line x1="180.90" y1="679.80" x2="180.90" y2="684.20" stroke="#000" stroke-width="1.6"/>
<line x1="180.90" y1="607.90" x2="180.90" y2="611.90" stroke="#000" stroke-width="1.6"/>
<line x1="236.45" y1="679.80" x2="236.45" y2="683.40" stroke="#000" stroke-width="1.6"/>
<line x1="236.45" y1="607.90" x2="236.45" y2="611.90" stroke="#000" stroke-width="1.6"/>
<line x1="292.00" y1="679.80" x2="292.00" y2="684.20" stroke="#000" stroke-width="1.6"/>
<line x1="292.00" y1="607.90" x2="292.00" y2="611.90" stroke="#000" stroke-width="1.6"/>
<text x="69.80" y="694.80" font-size="10.5" font-weight="bold" fill="#000" text-anchor="middle" >0</text>
<text x="180.90" y="694.80" font-size="10.5" font-weight="bold" fill="#000" text-anchor="middle" >5</text>
<text x="292.00" y="694.80" font-size="10.5" font-weight="bold" fill="#000" text-anchor="middle" >10</text>
<text x="177.60" y="720.60" font-size="16" fill="#000" text-anchor="middle" >t / min</text>
<text x="186.30" y="308.10" font-size="21.3" fill="#000" text-anchor="start" >(</text>
<text x="207.00" y="308.10" font-size="21.3" fill="#000" text-anchor="start" >)</text>
<text x="193.00" y="307.00" font-size="19.5" fill="#000" text-anchor="start" >B</text>
<text transform="translate(15.4,366.3) rotate(-90)" font-size="12.6" text-anchor="middle" fill="#ff0000" >intensity</text>
<text transform="translate(31.0,364.6) rotate(-90)" font-size="12.6" text-anchor="middle" fill="#ff0000" >red channel</text>
<text transform="translate(15.6,460.6) rotate(-90)" font-size="12.6" text-anchor="middle" fill="#14b414" >intensity</text>
<text transform="translate(31.3,459.6) rotate(-90)" font-size="12.6" text-anchor="middle" fill="#14b414" >green channel</text>
<text transform="translate(15.6,558.7) rotate(-90)" font-size="12.6" text-anchor="middle" fill="#000" >ratio R</text>
<text transform="translate(31.3,556.8) rotate(-90)" font-size="12.1" text-anchor="middle" fill="#000" >red/green channel</text>
<text transform="translate(29.2,647.5) rotate(-90)" font-size="12.6" text-anchor="middle" fill="#1a3cf0">pO<tspan font-size="8.5" dy="3.6">2</tspan><tspan dy="-3.6"> / hPa</tspan></text>
</svg></body></html>
